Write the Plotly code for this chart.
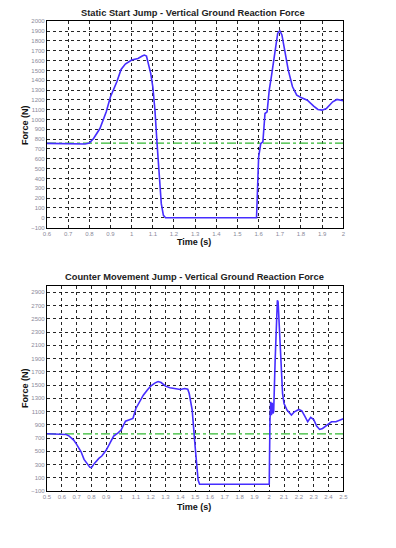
import plotly.graph_objects as go

# ---------------- data ----------------
ssj_time = [0.6, 0.65, 0.7, 0.75, 0.78, 0.8, 0.82, 0.85, 0.88, 0.9, 0.93, 0.95, 0.97, 1.0, 1.03,
            1.05, 1.06, 1.07, 1.08, 1.09, 1.1, 1.11, 1.12, 1.13, 1.14, 1.15, 1.16, 1.3, 1.45, 1.59,
            1.6, 1.61, 1.62, 1.63, 1.64, 1.65, 1.66, 1.68, 1.69, 1.7, 1.71, 1.72, 1.74, 1.76,
            1.78, 1.8, 1.83, 1.86, 1.88, 1.9, 1.92, 1.95, 1.97, 2.0]
ssj_force = [757, 755, 750, 748, 750, 760, 806, 908, 1078, 1231, 1384, 1510, 1565, 1605, 1622,
             1646, 1656, 1646, 1571, 1470, 1333, 1095, 755, 415, 143, 24, 0, 0, 0, 0,
             619, 755, 772, 1061, 1078, 1299, 1435, 1741, 1878, 1905, 1861, 1741, 1503, 1333,
             1248, 1224, 1197, 1136, 1102, 1095, 1112, 1180, 1204, 1190]

cmj_time = [0.5, 0.6, 0.63, 0.65, 0.68, 0.7, 0.73, 0.75, 0.77, 0.79, 0.8, 0.82, 0.85, 0.87, 0.9,
            0.93, 0.95, 0.98, 1.0, 1.03, 1.05, 1.08, 1.1, 1.13, 1.15, 1.18, 1.2, 1.23, 1.25,
            1.27, 1.3, 1.33, 1.36, 1.4, 1.43, 1.45, 1.46, 1.48, 1.5, 1.52, 1.53, 1.75, 2.0,
            2.005, 2.01, 2.015, 2.02, 2.025, 2.03, 2.04, 2.05, 2.055, 2.06, 2.07, 2.08, 2.09,
            2.1, 2.12, 2.15, 2.17, 2.2, 2.22, 2.24, 2.26, 2.28, 2.3, 2.32, 2.34, 2.36, 2.4,
            2.42, 2.45, 2.48, 2.5]
cmj_force = [764, 764, 754, 729, 669, 604, 493, 377, 307, 257, 252, 317, 392, 428, 518,
             644, 729, 779, 820, 955, 970, 995, 1146, 1272, 1347, 1433, 1483, 1533, 1553,
             1538, 1483, 1458, 1448, 1433, 1448, 1438, 1372, 1121, 568, 66, 2, 2, 2,
             970, 1247, 1046, 1230, 1071, 1100, 1875, 2528, 2780, 2754, 2277, 1774, 1372,
             1222, 1121, 1046, 1096, 1131, 1111, 1031, 945, 1011, 980, 880, 830, 845, 920,
             945, 945, 970, 990]

ssj_bw_time = [0.6, 2.0]
ssj_bw = [760, 760]
cmj_bw_time = [0.5, 2.5]
cmj_bw = [764, 764]

titles = ["Static Start Jump - Vertical Ground Reaction Force",
          "Counter Movement Jump - Vertical Ground Reaction Force"]
x_title = "Time (s)"
y_title = "Force (N)"

# ---------------- figure ----------------
W, H = 396, 548
OFF = 8  # page body margin offset
blue = "rgb(70,45,255)"
green = "rgb(50,185,50)"

def px(x):
    return (x - OFF) / W

def py(y):
    return 1 - (y - OFF) / H

fig = go.Figure()
fig.add_trace(go.Scatter(x=ssj_bw_time, y=ssj_bw, mode="lines", xaxis="x", yaxis="y",
                         line=dict(color=green, width=1.2, dash="dashdot"), showlegend=False))
fig.add_trace(go.Scatter(x=ssj_time, y=ssj_force, mode="lines", xaxis="x", yaxis="y",
                         line=dict(color=blue, width=1.6), showlegend=False))
fig.add_trace(go.Scatter(x=cmj_bw_time, y=cmj_bw, mode="lines", xaxis="x2", yaxis="y2",
                         line=dict(color=green, width=1.2, dash="dashdot"), showlegend=False))
fig.add_trace(go.Scatter(x=cmj_time, y=cmj_force, mode="lines", xaxis="x2", yaxis="y2",
                         line=dict(color=blue, width=1.6), showlegend=False))

xd = [px(47), px(343.3)]
top_dom = [py(227.5), py(21.3)]
bot_dom = [py(491), py(285.7)]

tickfont = dict(family="Liberation Sans", size=6, color="#8a8a9a")
axcommon = dict(showgrid=True, gridcolor="rgba(0,0,0,0.85)", griddash="dot", gridwidth=1,
                showline=True, linecolor="black", linewidth=1.2, mirror=True,
                zeroline=False, ticks="", tickfont=tickfont, ticklen=0, automargin=False)

fig.update_layout(
    width=W, height=H, autosize=False,
    margin=dict(l=0, r=0, t=0, b=0),
    paper_bgcolor="white", plot_bgcolor="white",
    xaxis=dict(domain=xd, anchor="y", range=[0.6, 2.0], tick0=0.6, dtick=0.1, **axcommon),
    yaxis=dict(domain=top_dom, anchor="x", range=[-100, 2000], tick0=-100, dtick=100, **axcommon),
    xaxis2=dict(domain=xd, anchor="y2", range=[0.5, 2.5], tick0=0.5, dtick=0.1, **axcommon),
    yaxis2=dict(domain=bot_dom, anchor="x2", range=[-100, 3000], tick0=-100, dtick=200, **axcommon),
)

title_font = dict(family="Liberation Sans", size=9.3, color="#222222")
lab_font = dict(family="Liberation Sans", size=9, color="#111111")
ann = [
    dict(text="<b>" + titles[0] + "</b>", x=px(193), y=py(13), font=title_font),
    dict(text="<b>" + titles[1] + "</b>", x=px(194), y=py(277), font=title_font),
    dict(text="<b>" + x_title + "</b>", x=px(194), y=py(242), font=lab_font),
    dict(text="<b>" + x_title + "</b>", x=px(194), y=py(507), font=lab_font),
    dict(text="<b>" + y_title + "</b>", x=px(25), y=py(125), font=lab_font, textangle=-90),
    dict(text="<b>" + y_title + "</b>", x=px(25), y=py(388), font=lab_font, textangle=-90),
]
for a in ann:
    a.update(xref="paper", yref="paper", showarrow=False, xanchor="center", yanchor="middle")
fig.update_layout(annotations=ann)

fig.write_html("out.html")
